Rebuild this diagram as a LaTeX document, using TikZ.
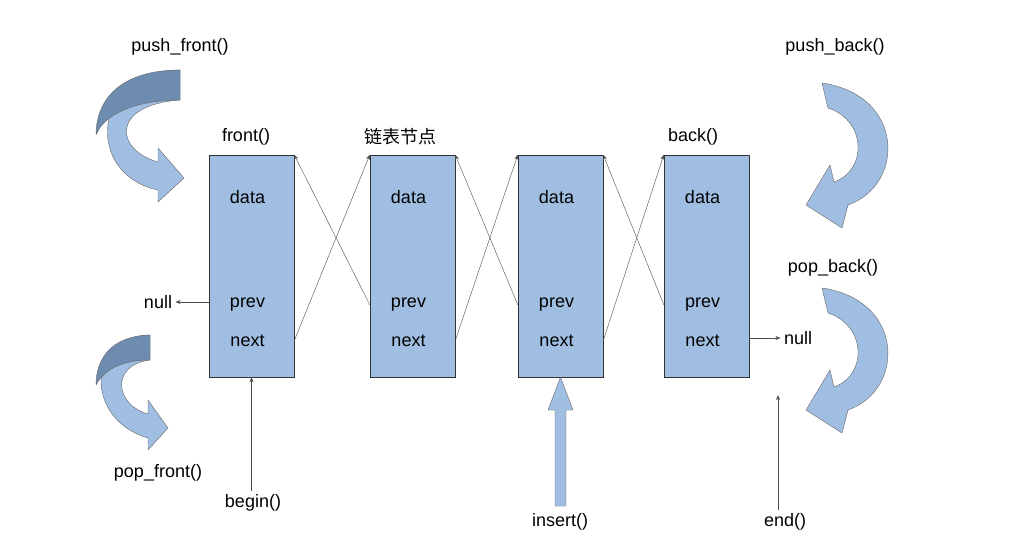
\documentclass[tikz,border=0pt]{standalone}
\usepackage{fontspec}
\setmainfont{Liberation Sans}
\newfontfamily\cjk{Noto Sans CJK SC}
\usetikzlibrary{arrows.meta, calc}
\definecolor{boxblue}{RGB}{160,190,225}
\definecolor{darkblue}{RGB}{110,140,175}
\tikzstyle{listnode} = [rectangle, minimum width=85pt, minimum height=222pt, draw=black!80, fill=boxblue, inner sep=0pt]
\tikzstyle{field} = [inner sep=1pt]
\tikzstyle{link} = [black!70, -{Stealth[length=5pt,width=4pt]}]
\tikzstyle{bigarrow} = [draw=black!60, fill=boxblue, line join=round]
\tikzset{
  font={\fontsize{18pt}{21}\selectfont}}
\begin{document}
\begin{tikzpicture}[x=1pt, y=-1pt]
    \useasboundingbox (0,0) rectangle (1030,540);
    % list nodes
    \node (n1) [listnode] at (251.5,266) {};
    \node (n2) [listnode] at (412.5,266) {};
    \node (n3) [listnode] at (560.5,266) {};
    \node (n4) [listnode] at (706.5,266) {};
    \foreach \n in {1,2,3,4} {
      \node (d\n) [field] at ($(n\n.north)+(-4,42)$) {data};
      \node (p\n) [field] at ($(n\n.north)+(-4,150)$) {prev};
      \node (x\n) [field] at ($(n\n.north)+(-4,186)$) {next};
    }
    \node (front) at (246,137) {front()};
    \node (title) at (400,137) {\cjk 链表节点};
    \node (back) at (693,137) {back()};

    % prev / next links
    \foreach \a/\b in {1/2,2/3,3/4} {
      \draw [link] (n\a.east |- x\a) -- (n\b.north west);
      \draw [link] (n\b.west |- p\b) -- (n\a.north east);
    }

    % null ends
    \node (nullL) at (158,302) {null};
    \node (nullR) at (798,338) {null};
    \draw [link] (n1.west |- nullL) -- (nullL);
    \draw [link] (n4.east |- nullR) -- (nullR);

    % iterators
    \node (begin) at (253,503) {begin()};
    \node (insert) at (560,522) {insert()};
    \node (end) at (785,522) {end()};
    \coordinate (endtip) at (778,395);
    \draw [link] (begin.north -| n1.south) -- (n1.south);
    \draw [link] (end.north -| endtip) -- (endtip);
    \draw [bigarrow] (n3.south) -- (548,410) -- (555,410) -- (555,506) -- (566,506)
      -- (566,410) -- (573,410) -- cycle;

    % push_front / pop_front
    \node (pushf) at (180,47) {push\_front()};
    \draw [bigarrow] (180,70) .. controls (90,72) and (85,175) .. (158,190) -- (158,202)
      -- (184,178) -- (158,148) -- (158,162) .. controls (115,150) and (110,105) .. (180,100) -- cycle;
    \draw [bigarrow, fill=darkblue] (180,70) .. controls (120,70) and (96,100) .. (96,135)
      .. controls (105,112) and (140,100) .. (180,100) -- cycle;
    \node (popf) at (158,473) {pop\_front()};
    \draw [bigarrow] (150,335) .. controls (85,337) and (85,420) .. (148,438) -- (148,450)
      -- (168,428) -- (148,400) -- (148,414) .. controls (115,405) and (110,365) .. (150,360) -- cycle;
    \draw [bigarrow, fill=darkblue] (150,335) .. controls (110,336) and (96,360) .. (96,385)
      .. controls (105,368) and (125,360) .. (150,360) -- cycle;

    % push_back / pop_back
    \node (pushb) at (835,47) {push\_back()};
    \node (popb) at (833,268) {pop\_back()};
    \foreach \dy in {0,205} {
      \draw [bigarrow, yshift=-\dy] (822,83) .. controls (905,95) and (905,185) .. (848,205)
        -- (842,228) -- (806,205) -- (830,165) -- (834,182) .. controls (868,170) and (866,120) .. (828,108) -- cycle;
    }
\end{tikzpicture}
\end{document}
